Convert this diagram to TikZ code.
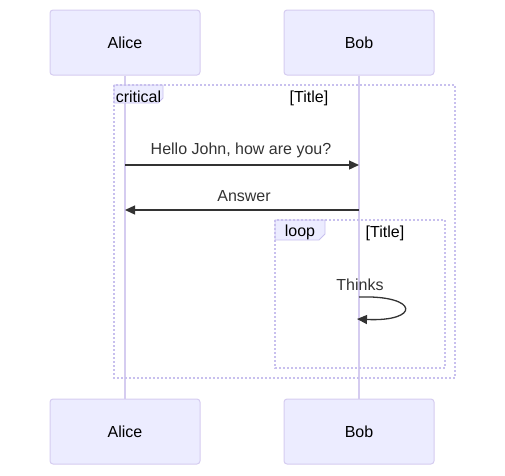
\documentclass[tikz,border=0pt]{standalone}
\usepackage{fontspec}
\setmainfont{Liberation Sans}
\usetikzlibrary{arrows.meta}
\definecolor{actfill}{HTML}{ECECFF}
\definecolor{actline}{HTML}{D5CCF0}
\definecolor{frameline}{HTML}{C8C0EE}
\definecolor{txt}{HTML}{333333}
\tikzset{
  actor/.style={draw=actline, fill=actfill, rounded corners=3pt, line width=1pt, minimum width=150pt, minimum height=65pt, inner sep=0pt, font=\fontsize{16}{19}\selectfont, text=black},
  life/.style={draw=actline, line width=1.2pt},
  frame/.style={draw=frameline, line width=1.2pt, dash pattern=on 2pt off 2pt},
  tag/.style={fill=actfill, draw=frameline, line width=0.8pt},
  lbl/.style={font=\fontsize{16}{19}\selectfont, text=black, inner sep=0pt},
  msg/.style={font=\fontsize{16}{19}\selectfont, text=txt, inner sep=0pt},
  arr/.style={draw=txt, line width=1.3pt, -{Triangle[length=10pt,width=9pt]}}
}
\begin{document}
\begin{tikzpicture}[x=1pt,y=-1pt]
\useasboundingbox (0,0) rectangle (505,475);
% actors
\node[actor] (at) at (125,42.5) {\raisebox{-1pt}{Alice}};
\node[actor] (bt) at (359,42.5) {\raisebox{-1pt}{Bob}};
\node[actor] (ab) at (125,431.5) {\raisebox{-1pt}{Alice}};
\node[actor] (bb) at (359,431.5) {\raisebox{-1pt}{Bob}};
% lifelines
\draw[life] (at.south) -- (ab.north);
\draw[life] (bt.south) -- (bb.north);
% critical frame
\filldraw[tag] (114,85) -- (163,85) -- (163,98) -- (158,103) -- (114,103) -- cycle;
\draw[frame] (114,85) rectangle (455,378);
\node[lbl] (crit) at (138.5,97) {critical};
\node[lbl] (ct) at (309,98) {[Title]};
% messages
\coordinate (a1) at (125,165);
\coordinate (b1) at (359,165);
\node[msg] (m1) at (241,150) {Hello John, how are you?};
\draw[arr] (a1) -- (b1);
\coordinate (b2) at (359,210);
\coordinate (a2) at (125,210);
\node[msg] (m2) at (244,196) {Answer};
\draw[arr] (b2) -- (a2);
% loop frame
\filldraw[tag] (275,220) -- (325,220) -- (325,234) -- (319,240) -- (275,240) -- cycle;
\draw[frame] (275,220) rectangle (445,368);
\node[lbl] (lp) at (300,232) {loop};
\node[lbl] (lt) at (385,233) {[Title]};
% self message
\node[msg] (m3) at (360,285) {Thinks};
\coordinate (s1) at (359,297);
\coordinate (s2) at (357,319);
\draw[arr] (s1) .. controls (420,295) and (420,322) .. (s2);
\end{tikzpicture}
\end{document}
